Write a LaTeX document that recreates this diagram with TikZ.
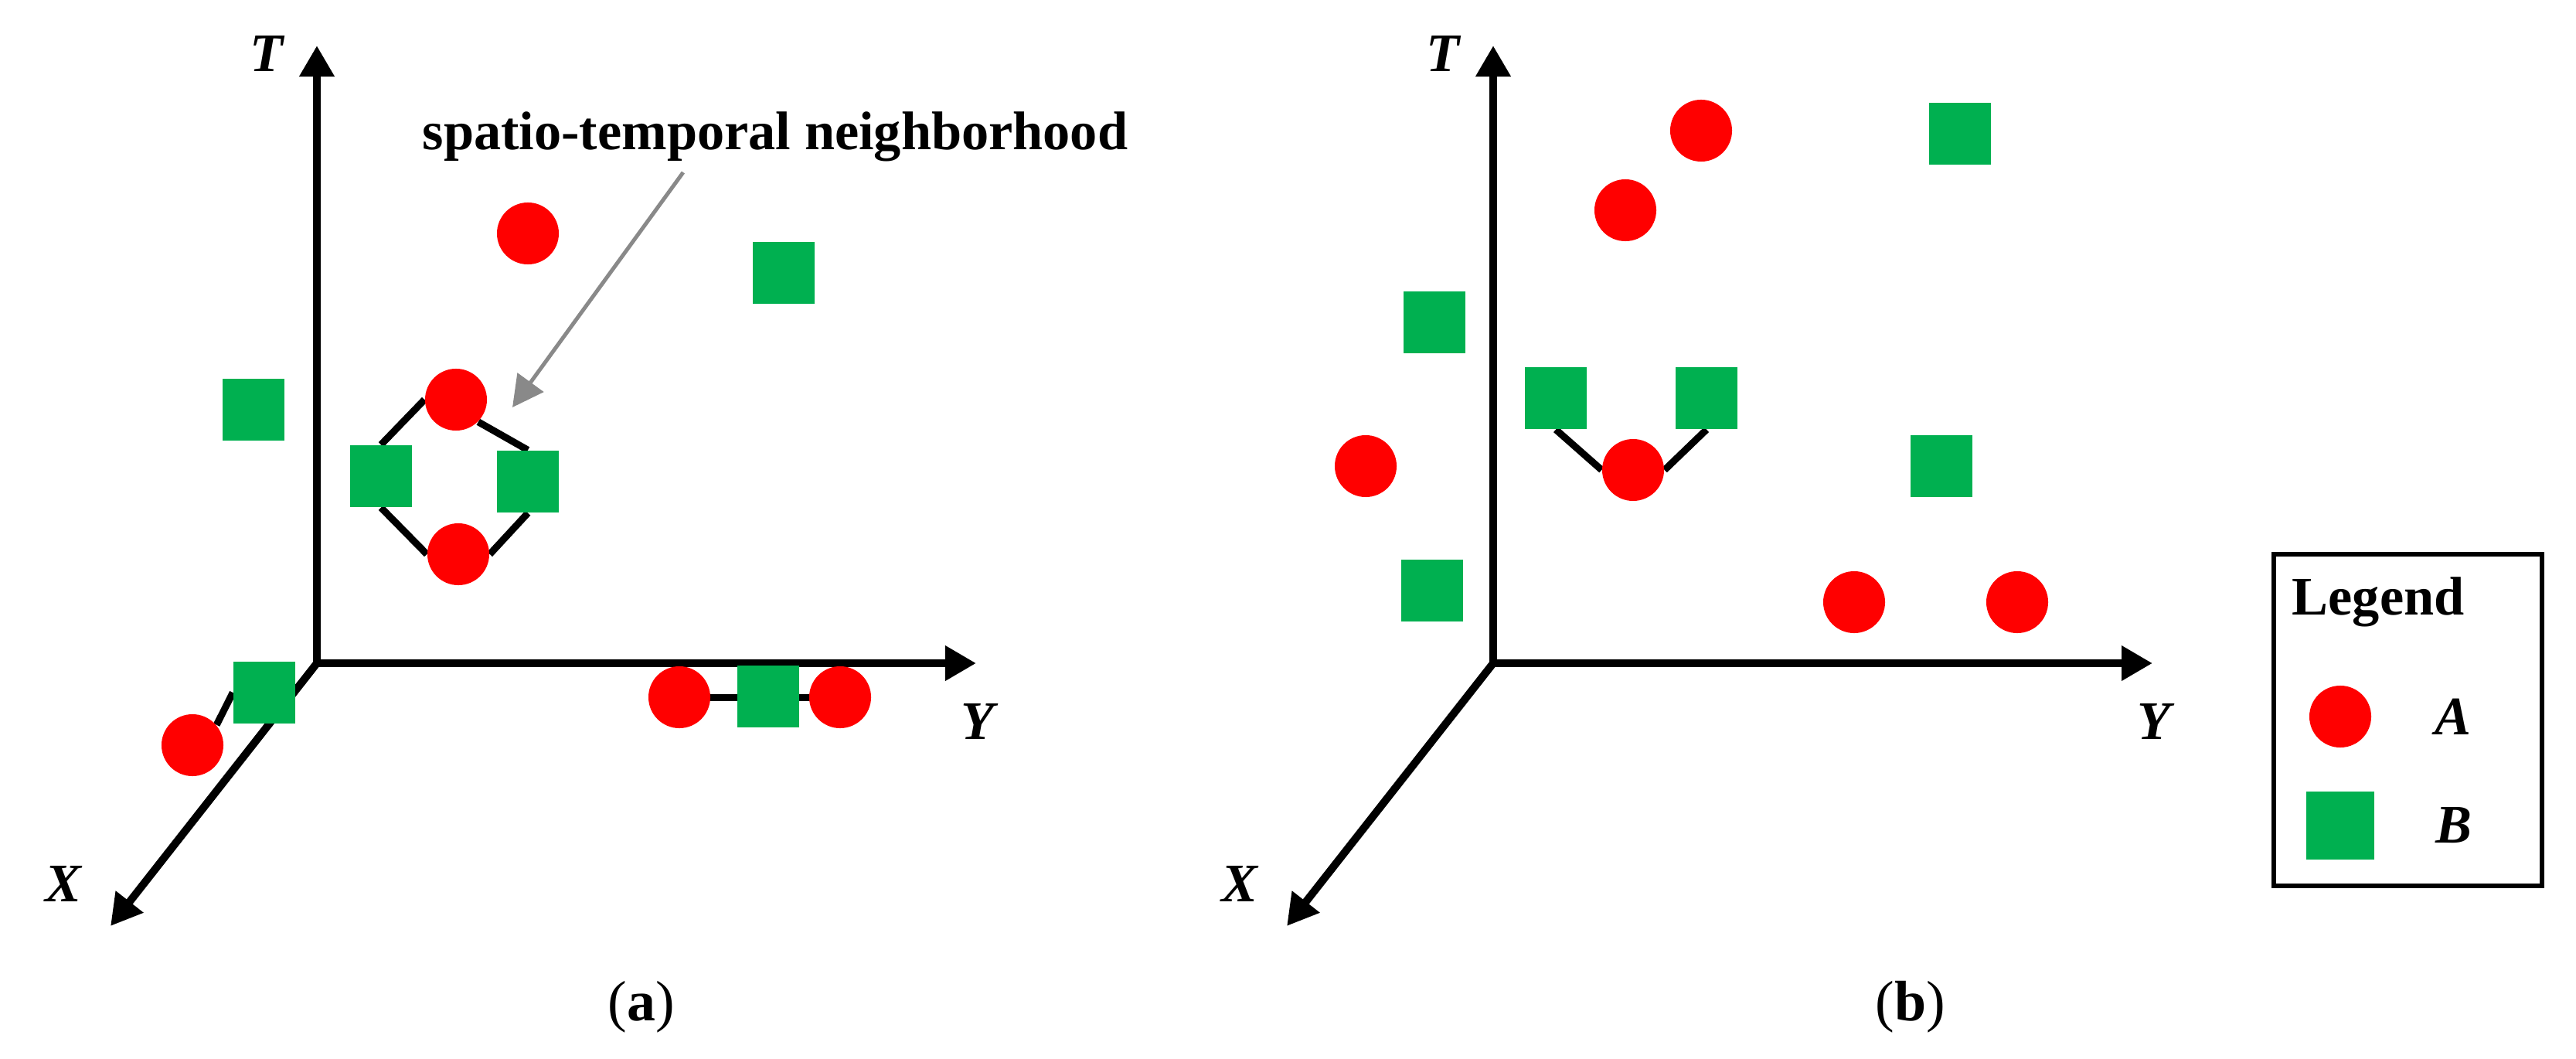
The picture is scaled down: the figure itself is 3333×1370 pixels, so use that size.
\documentclass[tikz,border=0pt]{standalone}
\usepackage{fontspec}
\setmainfont{Liberation Serif}
\usetikzlibrary{arrows.meta,backgrounds}
\definecolor{ptred}{RGB}{255,0,0}
\definecolor{ptgreen}{RGB}{0,176,80}
\definecolor{arrowgray}{RGB}{137,137,137}
\begin{document}
\begin{tikzpicture}[x=0.01cm,y=-0.01cm,
  ptA/.style={circle,fill=ptred,minimum size=0.8cm,inner sep=0pt},
  ptB/.style={rectangle,fill=ptgreen,minimum size=0.8cm,inner sep=0pt},
  axisline/.style={line width=0.1cm,-{Triangle[length=0.4cm,width=0.43cm]}},
  axisboth/.style={line width=0.1cm,{Triangle[length=0.4cm,width=0.43cm]}-{Triangle[length=0.4cm,width=0.43cm]}},
  link/.style={line width=0.09cm},
  axlabel/.style={font=\fontsize{20}{24}\selectfont\bfseries\itshape,inner sep=0pt},
  boldtext/.style={font=\fontsize{20}{24}\selectfont\bfseries,inner sep=0pt},
  caption/.style={font=\fontsize{21}{25}\selectfont,inner sep=0pt},
  grayarrow/.style={draw=arrowgray,line width=0.05cm,-{Triangle[length=0.4cm,width=0.41cm]},arrowgray}
]
\useasboundingbox (0,0) rectangle (3333,1370);

% ---------- panel (a) ----------
\coordinate (Oa) at (410,858);
\coordinate (Ta) at (410,59);
\coordinate (Ya) at (1263,858);
\coordinate (Xa) at (143,1198);
\node[axlabel] (lTa) at (345,69) {T};
\node[axlabel] (lYa) at (1265,933) {Y};
\node[axlabel] (lXa) at (82,1143) {X};

\node[ptA] (ar1) at (683,302) {};
\node[ptB] (ag1) at (1014,353) {};
\node[ptB] (ag2) at (328,530) {};
\node[ptA] (ar2) at (590,517) {};
\node[ptB] (ag3) at (493,616) {};
\node[ptB] (ag4) at (683,623) {};
\node[ptA] (ar3) at (593,717) {};
\node[ptB] (ag5) at (342,896) {};
\node[ptA] (ar4) at (249,964) {};
\node[ptA] (ar5) at (879,902) {};
\node[ptB] (ag6) at (994,901) {};
\node[ptA] (ar6) at (1087,902) {};

\node[boldtext,anchor=base] (nbtext) at (1003,194) {spatio-temporal neighborhood};
\coordinate (nbtip) at (663,527);
\draw[grayarrow] ([xshift=-1.19cm,yshift=-0.29cm]nbtext.base) -- (nbtip);

\node[caption] (capa) at (830,1303) {(\textbf{a})};

% ---------- panel (b) ----------
\coordinate (Ob) at (1932,858);
\coordinate (Tb) at (1932,59);
\coordinate (Yb) at (2785,858);
\coordinate (Xb) at (1665,1198);
\node[axlabel] (lTb) at (1867,69) {T};
\node[axlabel] (lYb) at (2787,933) {Y};
\node[axlabel] (lXb) at (1604,1143) {X};

\node[ptA] (br1) at (2201,169) {};
\node[ptA] (br2) at (2103,272) {};
\node[ptA] (br3) at (1767,603) {};
\node[ptA] (br4) at (2113,608) {};
\node[ptA] (br5) at (2399,779) {};
\node[ptA] (br6) at (2610,779) {};
\node[ptB] (bg1) at (2536,173) {};
\node[ptB] (bg2) at (1856,417) {};
\node[ptB] (bg3) at (2013,515) {};
\node[ptB] (bg4) at (2208,515) {};
\node[ptB] (bg5) at (2512,603) {};
\node[ptB] (bg6) at (1853,764) {};

\node[caption] (capb) at (2472,1303) {(\textbf{b})};

% ---------- legend ----------
\node[draw,line width=0.06cm,minimum width=3.47cm,minimum height=4.29cm,inner sep=0pt] (legend) at (3115.5,931.5) {};
\node[boldtext,anchor=base west] (legtitle) at (2965,795) {Legend};
\node[ptA] (legA) at (3028,927) {};
\node[ptB,minimum size=0.88cm] (legB) at (3028,1068) {};
\node[axlabel] (legAt) at (3174,927) {A};
\node[axlabel] (legBt) at (3175,1068) {B};

% ---------- axes and links behind ----------
\begin{pgfonlayer}{background}
\draw[axisboth] (Ta) -- (Oa) -- (Ya);
\draw[axisline] (Oa) -- (Xa);
\draw[link] (ar2.west) -- (ag3.north);
\draw[link] (ar2.south east) -- (ag4.north);
\draw[link] (ag3.south) -- (ar3.west);
\draw[link] (ar3.east) -- (ag4.south);
\draw[link] (ar4.40) -- (ag5.west);
\draw[link] (ar5.center) -- (ar6.center);

\draw[axisboth] (Tb) -- (Ob) -- (Yb);
\draw[axisline] (Ob) -- (Xb);
\draw[link] (bg3.south) -- (br4.west);
\draw[link] (bg4.south) -- (br4.east);
\end{pgfonlayer}
\end{tikzpicture}
\end{document}
